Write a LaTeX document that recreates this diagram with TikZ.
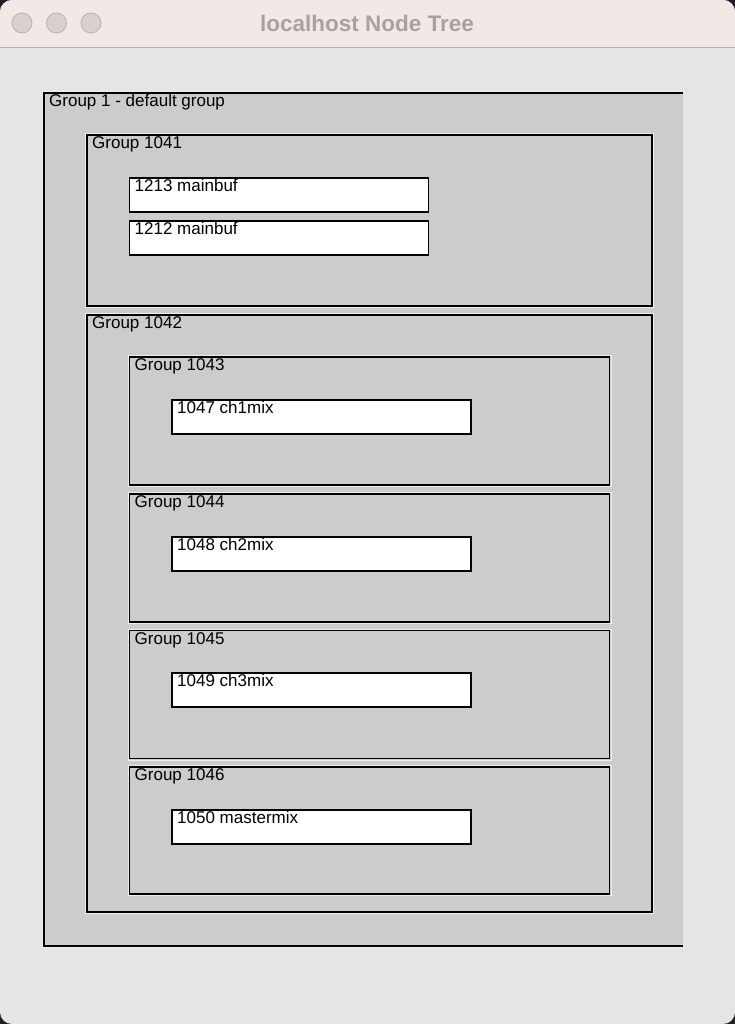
\documentclass[tikz,border=0pt]{standalone}
\usepackage{fontspec}
\setmainfont{Liberation Sans}
\begin{document}
\begin{tikzpicture}[x=1pt,y=-1pt,
  grp/.style={rectangle, fill=grpfill, draw=black, line width=1.4pt, inner sep=0pt, outer sep=0pt, anchor=north west},
  leaf/.style={rectangle, fill=white, draw=black, line width=1.4pt, inner sep=0pt, outer sep=0pt, anchor=north west, minimum width=299pt, minimum height=34pt},
  lbl/.style={font=\fontsize{17}{18}\selectfont, inner sep=0pt, anchor=base west},
  hilite/.style={draw=hl, line width=0.7pt},
  light/.style={circle, fill=lightfill, draw=lightline, line width=0.8pt, minimum size=20pt, inner sep=0pt}]
\definecolor{grpfill}{HTML}{CCCCCC}
\definecolor{winbg}{HTML}{E5E5E5}
\definecolor{titlebg}{HTML}{F2E9E7}
\definecolor{titletext}{HTML}{A9A1A0}
\definecolor{lightfill}{HTML}{D8D1CF}
\definecolor{lightline}{HTML}{B9B1AF}
\definecolor{outside}{HTML}{1E1F28}
\definecolor{hl}{HTML}{EDEDED}
\useasboundingbox (0,0) rectangle (735,1024);
% window
\fill[outside] (0,0) rectangle (735,1024);
\fill[winbg, rounded corners=12pt] (0,0) rectangle (735,1024);
\fill[titlebg, rounded corners=12pt] (0,0) rectangle (735,60);
\fill[titlebg] (0,30) rectangle (735,47);
\fill[winbg] (0,47) rectangle (735,70);
\draw[lightline, line width=1pt] (0,47.5) -- (735,47.5);
\node[light] (l1) at (22,23) {};
\node[light] (l2) at (56.5,23) {};
\node[light] (l3) at (91,23) {};
\node[font=\fontsize{22.5}{24}\selectfont\bfseries, text=titletext, inner sep=0pt] (title) at (367,23) {localhost Node Tree};
% group 1 (right edge clipped)
\node[grp, draw=none, minimum width=639pt, minimum height=853pt] (g1) at (44,93) {};
\draw[hilite] ([shift={(0pt,1.5pt)}]g1.north east) -- ([shift={(-1.5pt,1.5pt)}]g1.north west) -- ([shift={(-1.5pt,-1.5pt)}]g1.south west) -- ([shift={(0pt,-1.5pt)}]g1.south east);
\draw[black, line width=1.4pt] (g1.north east) -- (g1.north west) -- (g1.south west) -- (g1.south east);
\node[lbl] at ([xshift=5pt,yshift=-13.5pt]g1.north west) {Group 1 - default group};
% group 1041
\node[grp, minimum width=565pt, minimum height=171pt] (g1041) at (87,135) {};
\node[lbl] at ([xshift=5pt,yshift=-13.5pt]g1041.north west) {Group 1041};
\node[leaf] (n1213) at (129.5,178) {};
\node[lbl] at ([xshift=5pt,yshift=-13.5pt]n1213.north west) {1213 mainbuf};
\node[leaf] (n1212) at (129.5,221) {};
\node[lbl] at ([xshift=5pt,yshift=-13.5pt]n1212.north west) {1212 mainbuf};
% group 1042
\node[grp, minimum width=565pt, minimum height=597pt] (g1042) at (87,315) {};
\node[lbl] at ([xshift=5pt,yshift=-13.5pt]g1042.north west) {Group 1042};
% subgroups
\node[grp, minimum width=480pt, minimum height=128pt] (g1043) at (129.5,357) {};
\node[lbl] at ([xshift=5pt,yshift=-13.5pt]g1043.north west) {Group 1043};
\node[leaf] (n1047) at (172,400) {};
\node[lbl] at ([xshift=5pt,yshift=-13.5pt]n1047.north west) {1047 ch1mix};
\node[grp, minimum width=480pt, minimum height=128pt] (g1044) at (129.5,494) {};
\node[lbl] at ([xshift=5pt,yshift=-13.5pt]g1044.north west) {Group 1044};
\node[leaf] (n1048) at (172,537) {};
\node[lbl] at ([xshift=5pt,yshift=-13.5pt]n1048.north west) {1048 ch2mix};
\node[grp, minimum width=480pt, minimum height=128pt] (g1045) at (129.5,630.5) {};
\node[lbl] at ([xshift=5pt,yshift=-13.5pt]g1045.north west) {Group 1045};
\node[leaf] (n1049) at (172,673) {};
\node[lbl] at ([xshift=5pt,yshift=-13.5pt]n1049.north west) {1049 ch3mix};
\node[grp, minimum width=480pt, minimum height=127pt] (g1046) at (129.5,767) {};
\node[lbl] at ([xshift=5pt,yshift=-13.5pt]g1046.north west) {Group 1046};
\node[leaf] (n1050) at (172,810) {};
\node[lbl] at ([xshift=5pt,yshift=-13.5pt]n1050.north west) {1050 mastermix};
% bevel highlights
\foreach \b in {g1041,g1042,g1043,g1044,g1045,g1046}{
  \draw[hilite] ([shift={(-1.5pt,1.5pt)}]\b.north west) rectangle ([shift={(1.5pt,-1.5pt)}]\b.south east);
  \draw[black, line width=1.4pt] (\b.north west) rectangle (\b.south east);
}
\end{tikzpicture}
\end{document}
